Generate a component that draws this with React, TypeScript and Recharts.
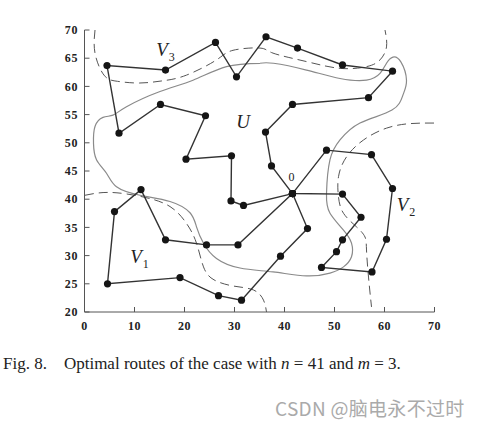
import { ComposedChart, Scatter, XAxis, YAxis } from 'recharts';

type Pt = [number, number];

// depot is the first and last point of every route
const routeV1: Pt[] = [
  [41.6, 41.0], [30.7, 31.9], [24.4, 31.9], [16.2, 32.8], [11.3, 41.7], [6.0, 37.8],
  [4.6, 25.0], [19.1, 26.1], [26.8, 22.9], [31.4, 22.1], [39.2, 29.9], [44.6, 34.8], [41.6, 41.0],
];
const routeV2: Pt[] = [
  [41.6, 41.0], [51.6, 40.9], [55.3, 36.8], [51.6, 32.8], [50.4, 30.7], [47.4, 27.9],
  [57.5, 27.1], [60.4, 32.9], [61.6, 41.9], [57.4, 47.9], [48.4, 48.7], [41.6, 41.0],
];
const routeV3: Pt[] = [
  [41.6, 41.0], [31.8, 38.9], [29.3, 39.7], [29.4, 47.7], [20.3, 47.1], [24.2, 54.8],
  [15.2, 56.8], [6.9, 51.7], [4.5, 63.7], [16.2, 62.9], [26.2, 67.8], [30.4, 61.7],
  [36.3, 68.8], [42.6, 66.8], [51.6, 63.8], [61.6, 62.7], [56.8, 58.0], [41.6, 56.8],
  [36.2, 51.9], [37.4, 45.9], [41.6, 41.0],
];

// region boundaries
const boundaryU: Pt[] = [
  [35.1, 64.1], [28.4, 63.5], [21.7, 61.1], [15.1, 59.1], [8.4, 56.4], [5.7, 54.9], [3.7, 54.5],
  [2.1, 52.9], [1.8, 49.9], [2.4, 47.0], [4.4, 44.6], [6.4, 42.2], [11.1, 40.7], [17.1, 39.6],
  [21.1, 37.6], [22.4, 35.1], [23.8, 32.2], [26.4, 29.5], [31.1, 27.8], [37.7, 27.1], [44.4, 26.4],
  [49.1, 26.9], [51.8, 28.0], [53.4, 29.8], [53.4, 32.2], [51.8, 34.5], [49.1, 37.5], [48.4, 41.0],
  [49.1, 47.0], [51.1, 50.5], [55.1, 53.5], [61.5, 55.8], [63.7, 58.5], [64.4, 61.1], [63.3, 64.3],
  [61.7, 65.2], [60.4, 64.1], [59.1, 62.3], [56.4, 61.1], [51.1, 61.4], [44.4, 62.9], [37.8, 64.1],
  [35.1, 64.1],
];
const boundaryV1: Pt[] = [
  [0.1, 40.7], [5.1, 41.2], [11.7, 40.4], [17.1, 38.7], [20.4, 35.7], [22.4, 32.2], [23.8, 28.0],
  [25.9, 25.7], [29.8, 24.6], [33.8, 23.9], [35.8, 22.1], [36.4, 20.0],
];
const boundaryV2: Pt[] = [
  [69.9, 53.5], [65.1, 53.4], [60.4, 52.6], [55.8, 50.5], [52.4, 47.5], [50.8, 44.0], [50.8, 40.4],
  [51.8, 37.5], [54.4, 35.1], [56.1, 33.3], [56.4, 31.0], [56.8, 26.2], [57.4, 20.9],
];
const boundaryV3: Pt[] = [
  [2.1, 70], [2.1, 65.9], [3.9, 62.0], [6.6, 60.9], [11, 60.6], [15.7, 61.0], [20.4, 62.0],
  [26.4, 64.7], [29.7, 66.4], [35.1, 66.8], [37.7, 65.9], [44.4, 64.4], [51.1, 63.2], [56.4, 63.5],
  [59.1, 64.7], [60.4, 67.0], [60.1, 70],
];

const regionLabels = [
  { x: 16.2, y: 66.5, name: 'V', sub: '3' },
  { x: 31.7, y: 53.7, name: 'U', sub: '' },
  { x: 11.0, y: 29.8, name: 'V', sub: '1' },
  { x: 64.3, y: 39.0, name: 'V', sub: '2' },
];
const depotLabel = [{ x: 41.4, y: 43.9, name: '0' }];

const xTicks = [0, 10, 20, 30, 40, 50, 60, 70];
const yTicks = [20, 25, 30, 35, 40, 45, 50, 55, 60, 65, 70];

const toPts = (r: Pt[]) => r.map(([x, y]) => ({ x, y }));

const serif = '"Liberation Serif", "Times New Roman", serif';
const tickStyle = { fontSize: 12, fontWeight: 'bold', fill: '#222', fontFamily: serif, letterSpacing: 0.6 };
const axisColor = '#555';

const noDot = () => <g />;
const routeDot = (p: any) => <circle cx={p.cx} cy={p.cy} r={3.6} fill="#151515" />;

const regionText = (p: any) => (
  <text x={p.cx} y={p.cy} textAnchor="middle" dominantBaseline="central"
    fontFamily={serif} fontStyle="italic" fontSize={19} fill="#222">
    {p.payload.name}
    {p.payload.sub && (
      <tspan fontStyle="normal" fontSize={12} dx={1} dy={7}>{p.payload.sub}</tspan>
    )}
  </text>
);
const depotText = (p: any) => (
  <text x={p.cx} y={p.cy} textAnchor="middle" dominantBaseline="central"
    fontFamily={serif} fontSize={12} fill="#222">{p.payload.name}</text>
);

export default function App() {
  return (
    <div style={{ position: 'absolute', left: 0, top: 0, width: 481, height: 426, background: '#fff' }}>
      <ComposedChart width={481} height={345} margin={{ top: 30, right: 46.5, bottom: 8, left: 54.5 }}>
        <XAxis type="number" dataKey="x" domain={[0, 70]} ticks={xTicks} height={25}
          stroke={axisColor} tickSize={-5} tickMargin={14} tick={tickStyle} />
        <XAxis xAxisId="top" orientation="top" type="number" dataKey="x" domain={[0, 70]}
          ticks={xTicks} height={0} stroke={axisColor} tickSize={-5} tickFormatter={() => ''} />
        <YAxis type="number" dataKey="y" domain={[20, 70]} ticks={yTicks} width={30}
          stroke={axisColor} tickSize={-5} tickMargin={11.5} tick={tickStyle} />
        <YAxis yAxisId="right" orientation="right" type="number" dataKey="y" domain={[20, 70]}
          ticks={yTicks} width={0} stroke={axisColor} tickSize={-5} tickFormatter={() => ''} />

        <Scatter data={toPts(boundaryU)} shape={noDot} lineJointType="natural"
          line={{ stroke: '#8a8a8a', strokeWidth: 1.2 }} isAnimationActive={false} />
        <Scatter data={toPts(boundaryV1)} shape={noDot} lineJointType="natural"
          line={{ stroke: '#555', strokeWidth: 1, strokeDasharray: '9 5' }} isAnimationActive={false} />
        <Scatter data={toPts(boundaryV2)} shape={noDot} lineJointType="natural"
          line={{ stroke: '#555', strokeWidth: 1, strokeDasharray: '9 5' }} isAnimationActive={false} />
        <Scatter data={toPts(boundaryV3)} shape={noDot} lineJointType="natural"
          line={{ stroke: '#555', strokeWidth: 1, strokeDasharray: '9 5' }} isAnimationActive={false} />

        <Scatter data={toPts(routeV1)} shape={routeDot}
          line={{ stroke: '#333', strokeWidth: 1.4 }} isAnimationActive={false} />
        <Scatter data={toPts(routeV2)} shape={routeDot}
          line={{ stroke: '#333', strokeWidth: 1.4 }} isAnimationActive={false} />
        <Scatter data={toPts(routeV3)} shape={routeDot}
          line={{ stroke: '#333', strokeWidth: 1.4 }} isAnimationActive={false} />

        <Scatter data={regionLabels} shape={regionText} isAnimationActive={false} />
        <Scatter data={depotLabel} shape={depotText} isAnimationActive={false} />
      </ComposedChart>
      <div style={{ position: 'absolute', left: 3, top: 354, fontFamily: serif, fontSize: 17,
        color: '#222', whiteSpace: 'pre' }}>
        {'Fig. 8.    Optimal routes of the case with '}<i>n</i>{' = 41 and '}<i>m</i>{' = 3.'}
      </div>
      <div style={{ position: 'absolute', left: 275, top: 394, fontFamily: '"Noto Sans CJK SC", sans-serif',
        fontSize: 19, color: '#aaa', whiteSpace: 'pre', letterSpacing: 0.3 }}>
        CSDN @脑电永不过时
      </div>
    </div>
  );
}
